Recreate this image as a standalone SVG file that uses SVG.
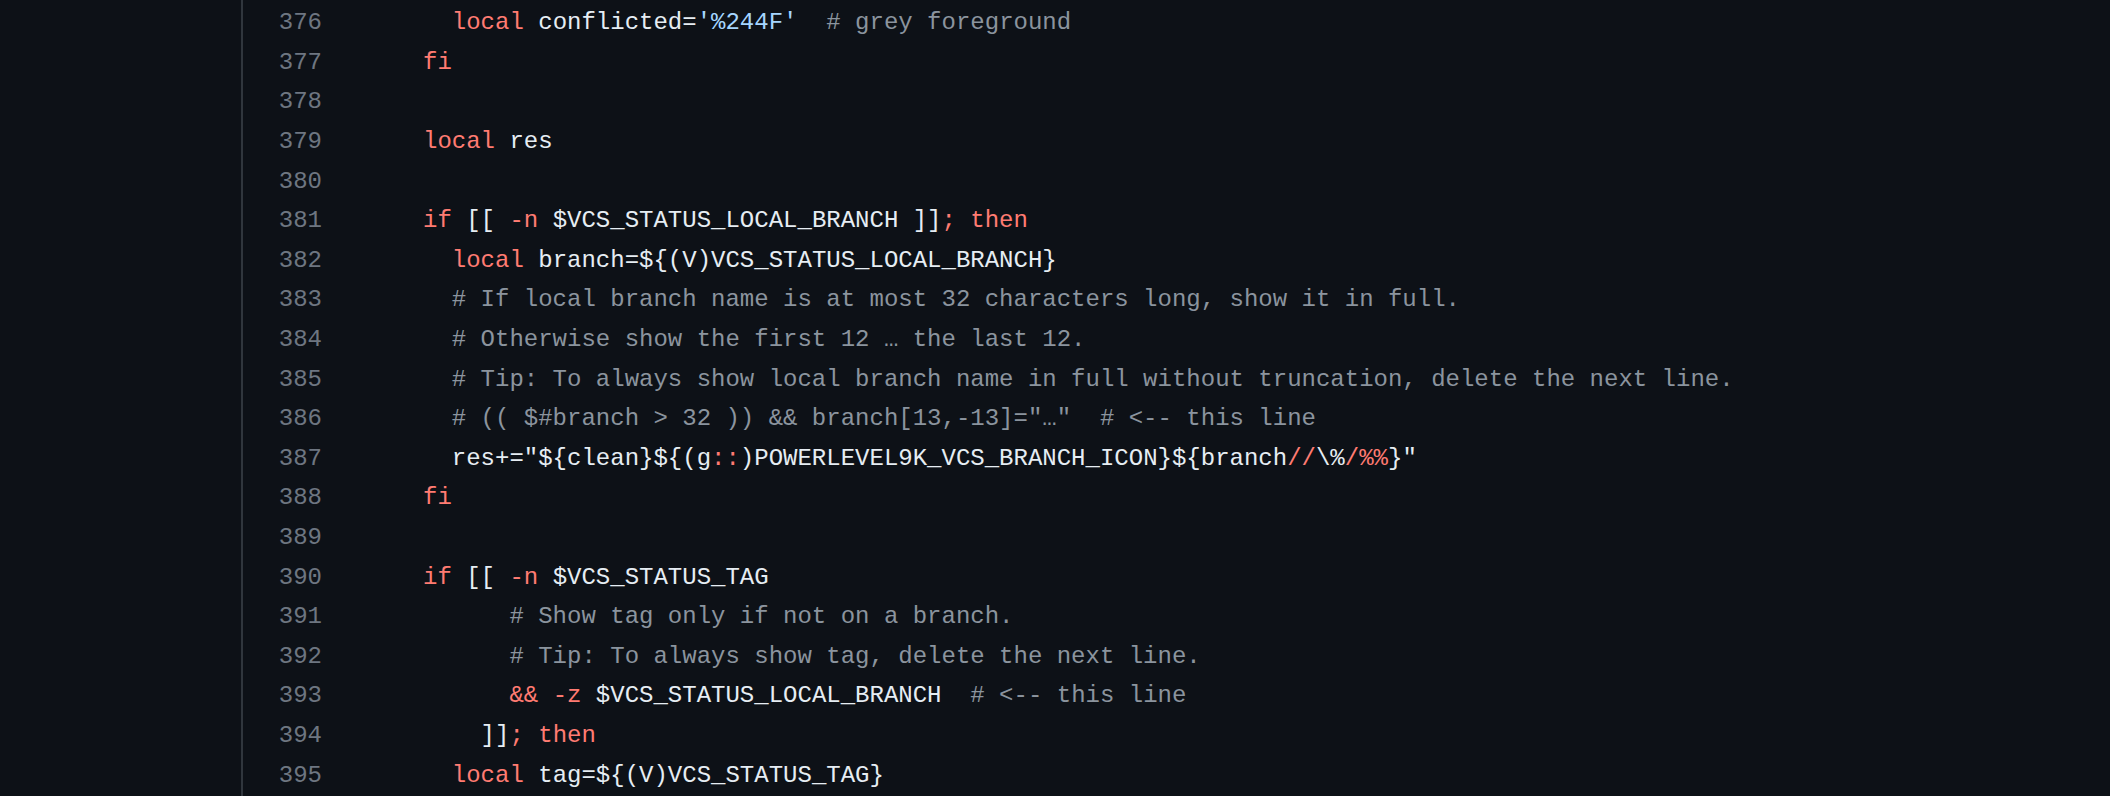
<svg xmlns="http://www.w3.org/2000/svg" width="2110" height="796" viewBox="0 0 2110 796">
<style>
text{font-family:"Liberation Mono","DejaVu Sans Mono",monospace;font-size:24px;fill:#e6edf3;white-space:pre}
.n{fill:#6e7681;text-anchor:end}
.k{fill:#ff7b72}.s{fill:#a5d6ff}.c{fill:#8b949e}
</style>
<rect width="2110" height="796" fill="#0d1117"/>
<line x1="242" y1="0" x2="242" y2="796" stroke="#30363d" stroke-width="2"/>
<g id="numbers">
<text class="n" x="322" y="29">376</text><text class="n" x="322" y="69">377</text><text class="n" x="322" y="108">378</text><text class="n" x="322" y="148">379</text><text class="n" x="322" y="188">380</text><text class="n" x="322" y="227">381</text><text class="n" x="322" y="267">382</text><text class="n" x="322" y="306">383</text><text class="n" x="322" y="346">384</text><text class="n" x="322" y="386">385</text><text class="n" x="322" y="425">386</text><text class="n" x="322" y="465">387</text><text class="n" x="322" y="504">388</text><text class="n" x="322" y="544">389</text><text class="n" x="322" y="584">390</text><text class="n" x="322" y="623">391</text><text class="n" x="322" y="663">392</text><text class="n" x="322" y="702">393</text><text class="n" x="322" y="742">394</text><text class="n" x="322" y="782">395</text>
</g>
<g id="code" transform="translate(0,0)">
<text x="365.4" y="29" xml:space="preserve">      <tspan class="k">local</tspan> conflicted=<tspan class="s">'%244F'</tspan>  <tspan class="c"># grey foreground</tspan></text>
<text x="365.4" y="69" xml:space="preserve">    <tspan class="k">fi</tspan></text>
<text x="365.4" y="148" xml:space="preserve">    <tspan class="k">local</tspan> res</text>
<text x="365.4" y="227" xml:space="preserve">    <tspan class="k">if</tspan> [[ <tspan class="k">-n</tspan> $VCS_STATUS_LOCAL_BRANCH ]]<tspan class="k">; then</tspan></text>
<text x="365.4" y="267" xml:space="preserve">      <tspan class="k">local</tspan> branch=${(V)VCS_STATUS_LOCAL_BRANCH}</text>
<text x="365.4" y="306" xml:space="preserve" class="c">      # If local branch name is at most 32 characters long, show it in full.</text>
<text x="365.4" y="346" xml:space="preserve" class="c">      # Otherwise show the first 12 … the last 12.</text>
<text x="365.4" y="386" xml:space="preserve" class="c">      # Tip: To always show local branch name in full without truncation, delete the next line.</text>
<text x="365.4" y="425" xml:space="preserve" class="c">      # (( $#branch &gt; 32 )) &amp;&amp; branch[13,-13]="…"  # &lt;-- this line</text>
<text x="365.4" y="465" xml:space="preserve">      res+="${clean}${(g<tspan class="k">::</tspan>)POWERLEVEL9K_VCS_BRANCH_ICON}${branch<tspan class="k">//</tspan>\%<tspan class="k">/%%</tspan>}"</text>
<text x="365.4" y="504" xml:space="preserve">    <tspan class="k">fi</tspan></text>
<text x="365.4" y="584" xml:space="preserve">    <tspan class="k">if</tspan> [[ <tspan class="k">-n</tspan> $VCS_STATUS_TAG</text>
<text x="365.4" y="623" xml:space="preserve" class="c">          # Show tag only if not on a branch.</text>
<text x="365.4" y="663" xml:space="preserve" class="c">          # Tip: To always show tag, delete the next line.</text>
<text x="365.4" y="702" xml:space="preserve">          <tspan class="k">&amp;&amp; -z</tspan> $VCS_STATUS_LOCAL_BRANCH  <tspan class="c"># &lt;-- this line</tspan></text>
<text x="365.4" y="742" xml:space="preserve">        ]]<tspan class="k">; then</tspan></text>
<text x="365.4" y="782" xml:space="preserve">      <tspan class="k">local</tspan> tag=${(V)VCS_STATUS_TAG}</text>
</g>
</svg>
